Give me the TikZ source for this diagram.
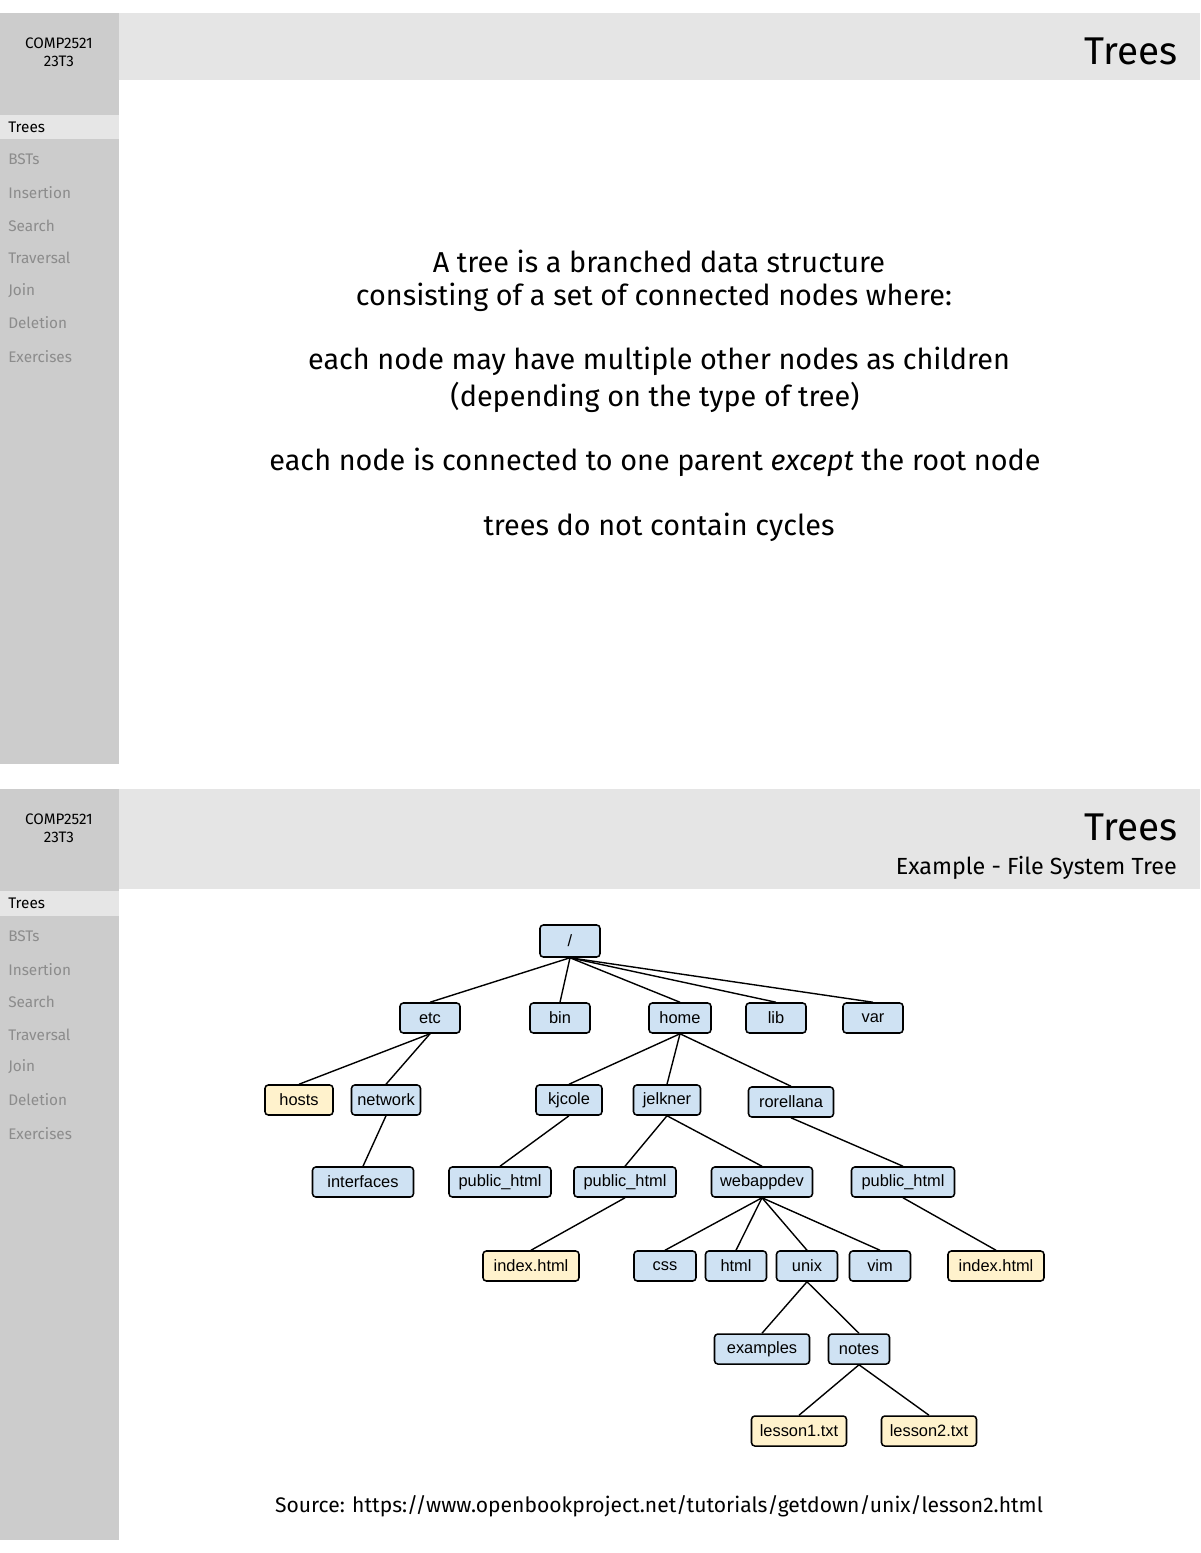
\documentclass[tikz,border=0pt]{standalone}
\usepackage{fontspec}
\setmainfont{Fira Sans}
\newfontfamily\arialf{Liberation Sans}
\definecolor{sidebar}{HTML}{CCCCCC}
\definecolor{headbar}{HTML}{E5E5E5}
\definecolor{hilite}{HTML}{E6E6E6}
\definecolor{menugray}{HTML}{8C8C8C}
\definecolor{nodeblue}{HTML}{CFE2F3}
\definecolor{nodeyellow}{HTML}{FFF2CC}
\begin{document}
\begin{tikzpicture}[x=0.75pt,y=-0.75pt,
  fbox/.style={draw=black, line width=1.15pt, rounded corners=2.5pt, fill=nodeblue,
    minimum height=22.5pt, inner sep=0pt, font=\arialf\fontsize{12.3}{14}\selectfont},
  yfile/.style={fbox, fill=nodeyellow},
  bw/.style={minimum width=#1*0.75pt},
  edge/.style={draw=black, line width=1.05pt},
  menuitem/.style={anchor=west, inner sep=0pt, text=menugray, font=\fontsize{11.5}{13}\selectfont},
  menuon/.style={menuitem, text=black},
  bodytext/.style={inner sep=0pt, font=\fontsize{21.6}{26}\selectfont},
  titletext/.style={anchor=east, inner sep=0pt, font=\fontsize{29}{33}\selectfont},
  coursetext/.style={inner sep=0pt, align=center, font=\fontsize{11.4}{13.5}\selectfont}]
\useasboundingbox (0,0) rectangle (1200,1553);
\fill[white] (0,0) rectangle (1200,1553);

% ---------- slide 1 ----------
\fill[sidebar] (0,13) rectangle (119,764);
\fill[headbar] (119,13) rectangle (1200,80);
\fill[hilite] (0,115) rectangle (119,139);
\node[coursetext] (c1) at (59,52) {COMP2521\\23T3};
\node[titletext] (t1) at (1178,51) {Trees};
\node[menuon]   (m1a) at (8,127) {Trees};
\node[menuitem] (m1b) at (8,159) {BSTs};
\node[menuitem] (m1c) at (8,193) {Insertion};
\node[menuitem] (m1d) at (8,226) {Search};
\node[menuitem] (m1e) at (8,258) {Traversal};
\node[menuitem] (m1f) at (8,291) {Join};
\node[menuitem] (m1g) at (8,323) {Deletion};
\node[menuitem] (m1h) at (8,357) {Exercises};
\node[bodytext] (b1) at (659,261) {A tree is a branched data structure};
\node[bodytext] (b2) at (654,297) {consisting of a set of connected nodes where:};
\node[bodytext] (b3) at (659,361) {each node may have multiple other nodes as children};
\node[bodytext] (b4) at (655,397) {(depending on the type of tree)};
\node[bodytext] (b5) at (655,462) {each node is connected to one parent \emph{except} the root node};
\node[bodytext] (b6) at (659,527) {trees do not contain cycles};

% ---------- slide 2 ----------
\fill[sidebar] (0,789) rectangle (119,1540);
\fill[headbar] (119,789) rectangle (1200,889);
\fill[hilite] (0,891) rectangle (119,916);
\node[coursetext] (c2) at (59,828) {COMP2521\\23T3};
\node[titletext] (t2) at (1178,827) {Trees};
\node[anchor=east, inner sep=0pt, font=\fontsize{17.5}{20}\selectfont] (st2) at (1177,868) {Example - File System Tree};
\node[menuon]   (m2a) at (8,903) {Trees};
\node[menuitem] (m2b) at (8,936) {BSTs};
\node[menuitem] (m2c) at (8,970) {Insertion};
\node[menuitem] (m2d) at (8,1002) {Search};
\node[menuitem] (m2e) at (8,1035) {Traversal};
\node[menuitem] (m2f) at (8,1067) {Join};
\node[menuitem] (m2g) at (8,1100) {Deletion};
\node[menuitem] (m2h) at (8,1134) {Exercises};

% tree nodes
\node[fbox, bw=60, minimum height=24pt] (root) at (570,941) {/};
\node[fbox, bw=60] (etc) at (430,1018) {etc};
\node[fbox, bw=60] (bin) at (560,1018) {bin};
\node[fbox, bw=62] (home) at (680,1018) {home};
\node[fbox, bw=60] (lib) at (776,1018) {lib};
\node[fbox, bw=60] (var) at (873,1018) {var};
\node[yfile, bw=68] (hosts) at (299,1100) {hosts};
\node[fbox, bw=69] (network) at (386,1100) {network};
\node[fbox, bw=66] (kjcole) at (569,1100) {kjcole};
\node[fbox, bw=67] (jelkner) at (667,1100) {jelkner};
\node[fbox, bw=85] (rorellana) at (791,1102) {rorellana};
\node[fbox, bw=101] (interfaces) at (363,1182) {interfaces};
\node[fbox, bw=102] (pubA) at (500,1182) {public\_html};
\node[fbox, bw=102] (pubB) at (625,1182) {public\_html};
\node[fbox, bw=101] (webappdev) at (762,1182) {webappdev};
\node[fbox, bw=103] (pubC) at (903,1182) {public\_html};
\node[yfile, bw=96] (indexA) at (531,1266) {index.html};
\node[fbox, bw=62] (css) at (665,1266) {css};
\node[fbox, bw=61] (html) at (736,1266) {html};
\node[fbox, bw=61] (unix) at (807,1266) {unix};
\node[fbox, bw=61] (vim) at (880,1266) {vim};
\node[yfile, bw=96] (indexB) at (996,1266) {index.html};
\node[fbox, bw=95] (examples) at (762,1349) {examples};
\node[fbox, bw=61] (notes) at (859,1349) {notes};
\node[yfile, bw=95] (lesson1) at (799,1431) {lesson1.txt};
\node[yfile, bw=95] (lesson2) at (929,1431) {lesson2.txt};

% edges
\foreach \c in {etc,bin,home,lib,var} \draw[edge] (root.south) -- (\c.north);
\foreach \c in {hosts,network} \draw[edge] (etc.south) -- (\c.north);
\draw[edge] (network.south) -- (interfaces.north);
\foreach \c in {kjcole,jelkner,rorellana} \draw[edge] (home.south) -- (\c.north);
\draw[edge] (kjcole.south) -- (pubA.north);
\foreach \c in {pubB,webappdev} \draw[edge] (jelkner.south) -- (\c.north);
\draw[edge] (rorellana.south) -- (pubC.north);
\draw[edge] (pubB.south) -- (indexA.north);
\foreach \c in {css,html,unix,vim} \draw[edge] (webappdev.south) -- (\c.north);
\draw[edge] (pubC.south) -- (indexB.north);
\foreach \c in {examples,notes} \draw[edge] (unix.south) -- (\c.north);
\foreach \c in {lesson1,lesson2} \draw[edge] (notes.south) -- (\c.north);

\node[inner sep=0pt, font=\fontsize{15.8}{18}\selectfont] (src) at (659,1506) {Source: https://www.openbookproject.net/tutorials/getdown/unix/lesson2.html};
\end{tikzpicture}
\end{document}
